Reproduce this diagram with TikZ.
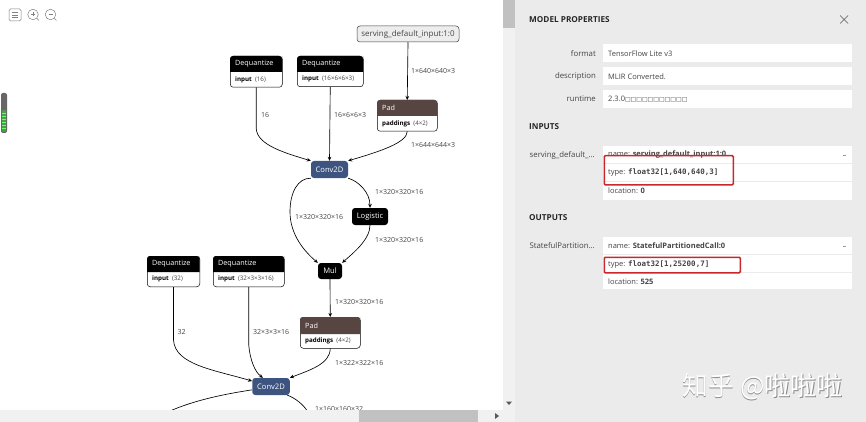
\documentclass[tikz,border=0pt]{standalone}
\usepackage{fontspec}
\setmainfont{Open Sans}
\setmonofont{DejaVu Sans Mono}
\newfontfamily\cjkfont{Noto Sans CJK SC}
\newfontfamily\boxfont{DejaVu Sans}
\usetikzlibrary{arrows.meta}
\definecolor{panelbg}{HTML}{EBEBEB}
\definecolor{barbg}{HTML}{F1F1F1}
\definecolor{barthumb}{HTML}{C1C1C1}
\definecolor{padbrown}{HTML}{574541}
\definecolor{convblue}{HTML}{3E5480}
\definecolor{redbox}{HTML}{C8282C}
\definecolor{txt}{HTML}{444444}
\tikzset{
  edge/.style={draw=black,line width=0.65pt,-{Stealth[length=4pt,width=3.6pt]}},
  stub/.style={draw=black,line width=0.65pt},
  elabel/.style={font=\fontsize{7}{8}\selectfont,text=txt,inner sep=0pt,anchor=west},
  opbox/.style={rounded corners=3pt,inner sep=0pt,draw=black,line width=0.5pt,fill=white},
  darkop/.style={rounded corners=3pt,inner sep=0pt,fill=#1,text=white,font=\fontsize{7.6}{9}\selectfont},
  title/.style={font=\fontsize{7.2}{9}\selectfont,text=white,inner sep=0pt,anchor=west},
  attr/.style={font=\fontsize{6.2}{8}\selectfont,text=black,inner sep=0pt,anchor=west},
  rowbox/.style={fill=white,draw=none,inner sep=0pt,anchor=north west},
  keytxt/.style={font=\fontsize{7.8}{9}\selectfont,text=txt,inner sep=0pt,anchor=east},
  valtxt/.style={font=\fontsize{7.5}{9}\selectfont,text=txt,inner sep=0pt,anchor=west},
  headtxt/.style={font=\fontsize{8.2}{10}\selectfont\bfseries,text=black!85,inner sep=0pt,anchor=west},
  redframe/.style={draw=redbox,line width=1.5pt,rounded corners=1pt,inner sep=0pt,anchor=north west},
  toolline/.style={draw=black!50,line width=0.5pt},
}
% name, x1, y1, x2, ysplit, y2, header colour, title, attribute name, attribute value
\newcommand{\opnode}[9]{%
  \def\argname{#1}\def\argxa{#2}\def\argya{#3}\def\argxb{#4}\def\argys{#5}\def\argyb{#6}\def\argcol{#7}\def\argtitle{#8}\def\argattr{#9}%
  \opnodeval}
\newcommand{\opnodeval}[1]{%
  \pgfmathsetlengthmacro{\boxw}{(\argxb-\argxa)*1pt}%
  \pgfmathsetlengthmacro{\boxh}{(\argyb-\argya)*1pt}%
  \node[opbox,minimum width=\boxw,minimum height=\boxh,anchor=north west] (\argname) at (\argxa,\argya) {};
  \fill[\argcol,rounded corners=3pt] (\argxa,\argys) [sharp corners] -- (\argxa,\argya+3) [rounded corners=3pt] -- (\argxa,\argya) -- (\argxb,\argya) -- (\argxb,\argya+3) [sharp corners] -- (\argxb,\argys) -- cycle;
  \node[title] (\argname-t) at (\argxa+5,{(\argya+\argys)/2}) {\argtitle};
  \node[attr] (\argname-a) at (\argxa+5,{(\argys+\argyb)/2}) {\textbf{\argattr}\ \ {\color{txt}#1}};
}
\begin{document}
\begin{tikzpicture}[x=1pt,y=-1pt]
\useasboundingbox (0,0) rectangle (866,422);
\fill[white] (0,0) rectangle (866,422);

% ---- toolbar
\node[toolline,rounded corners=1.5pt,minimum size=12pt,inner sep=0pt] (tool1) at (15,15) {};
\foreach \yy in {12.7,15,17.3}{\draw[toolline] (12,\yy) -- (18,\yy);}
\node[circle,toolline,minimum size=10.5pt,inner sep=0pt] (tool2) at (33,14.5) {};
\draw[toolline] (31,14.5) -- (35,14.5) (33,12.5) -- (33,16.5);
\draw[toolline] (tool2.south east) -- ++(2,2);
\node[circle,toolline,minimum size=10.5pt,inner sep=0pt] (tool3) at (50.5,14.5) {};
\draw[toolline] (48.5,14.5) -- (52.5,14.5);
\draw[toolline] (tool3.south east) -- ++(2,2);
% ---- slider
\fill[black!60,rounded corners=2pt] (1,93) rectangle (7,133);
\fill[green!45!black!70!white,rounded corners=1pt] (2,110) rectangle (6,132);
\foreach \yy in {113,116,119,122,125,128}{\draw[green!60!white,line width=0.4pt] (2,\yy) -- (6,\yy);}

% ---- graph nodes
\node[rounded corners=3pt,draw=black!75,line width=0.5pt,fill=black!7,minimum width=102pt,minimum height=16pt,inner sep=0pt,font=\fontsize{8}{9}\selectfont,text=txt] (serving) at (408,34) {serving\_default\_input:1:0};
\opnode{dqa}{230}{56}{282}{72}{87}{black}{Dequantize}{input}{(16)}
\opnode{dqb}{297}{56}{363}{72}{86.5}{black}{Dequantize}{input}{(16×6×6×3)}
\opnode{pada}{377}{100}{437}{116}{131}{padbrown}{Pad}{paddings}{(4×2)}
\node[darkop=convblue,minimum width=37pt,minimum height=17pt] (conva) at (329.5,169.5) {Conv2D};
\node[darkop=black,minimum width=36pt,minimum height=17pt] (logi) at (370,216.5) {Logistic};
\node[darkop=black,minimum width=24pt,minimum height=16pt] (mul) at (330,271) {Mul};
\opnode{dqc}{147}{256}{199.5}{272}{286.5}{black}{Dequantize}{input}{(32)}
\opnode{dqd}{213}{256}{284}{272}{286.5}{black}{Dequantize}{input}{(32×3×3×16)}
\opnode{padb}{300}{317}{360}{334}{348}{padbrown}{Pad}{paddings}{(4×2)}
\node[darkop=convblue,minimum width=37.5pt,minimum height=17pt] (convb) at (271,386.5) {Conv2D};
\coordinate (freel) at (170,411);
\coordinate (freer) at (308,412);

% ---- connectors
\draw[edge] (serving.south) -- (pada.north);
\draw[edge] (dqa.south) -- ++(0,41) .. controls (257,145) and (285,153) .. (conva.north west);
\draw[edge] (dqb.south) -- (conva.north);
\draw[edge] (pada.south) .. controls (407,143) and (378,152) .. (conva.north east);
\draw[edge] (conva.south west) .. controls (298,178) and (290,192) .. (290,212) .. controls (290,235) and (305,252) .. (mul.north west);
\draw[edge] (conva.south east) .. controls (358,181) and (370,192) .. (logi.north);
\draw[edge] (logi.south) .. controls (370,240) and (352,254) .. (mul.north east);
\draw[edge] (mul.south) -- (padb.north);
\draw[edge] (dqc.south) -- ++(0,53) .. controls (175,365) and (215,370) .. (convb.164);
\draw[edge] (dqd.south) -- ++(0,58) .. controls (250,360) and (255,372) .. (convb.133);
\draw[edge] (padb.south) .. controls (330,364) and (310,370) .. (convb.north east);
\draw[stub] (convb.190) .. controls (225,394) and (195,400) .. (freel);
\draw[stub] (convb.-28) .. controls (295,398) and (303,404) .. (freer);

% ---- edge labels
\node[elabel] (la) at (411,71) {1×640×640×3};
\node[elabel] (lb) at (261,115) {16};
\node[elabel] (lc) at (334,115.5) {16×6×6×3};
\node[elabel] (ld) at (411,145.5) {1×644×644×3};
\node[elabel] (le) at (375,192) {1×320×320×16};
\node[elabel] (lf) at (295,216.5) {1×320×320×16};
\node[elabel] (lg) at (375,240) {1×320×320×16};
\node[elabel] (lh) at (335,301.5) {1×320×320×16};
\node[elabel] (li) at (177.5,332) {32};
\node[elabel] (lj) at (253,332) {32×3×3×16};
\node[elabel] (lk) at (335,362.5) {1×322×322×16};
\node[elabel] (ll) at (315,408.5) {1×160×160×32};

% ---- scrollbars (cover the graph)
\fill[barbg] (503,0) rectangle (515,422);
\fill[barbg] (0,410) rectangle (515,422);
\fill[barthumb] (503,0) rectangle (515,28);
\fill[barthumb] (359,410) rectangle (478,422);
\fill[black!65] (506,401.5) -- (512,401.5) -- (509,405) -- cycle;
\fill[black!65] (495,413) -- (495,419) -- (499,416) -- cycle;

% ---- properties panel
\fill[panelbg] (515,0) rectangle (866,422);
\node[headtxt] (mp) at (529,20) {MODEL PROPERTIES};
\draw[black!55,line width=0.7pt] (840,15.5) -- (848,23.5) (848,15.5) -- (840,23.5);

\node[rowbox,minimum width=249pt,minimum height=18pt] (r1) at (603,44) {};
\node[rowbox,minimum width=249pt,minimum height=18pt] (r2) at (603,67) {};
\node[rowbox,minimum width=249pt,minimum height=18pt] (r3) at (603,89.5) {};
\node[keytxt] (k1) at (596,53.5) {format};
\node[keytxt] (k2) at (596,76) {description};
\node[keytxt] (k3) at (596,98.5) {runtime};
\node[valtxt] (v1) at (608,54) {TensorFlow Lite v3};
\node[valtxt] (v2) at (608,76.5) {MLIR Converted.};
\node[valtxt] (v3) at (608,99) {2.3.0{\boxfont\fontsize{6}{8}\selectfont □□□□□□□□□□□}};

\node[headtxt] (hi) at (529,126.5) {INPUTS};
\node[rowbox,minimum width=249pt,minimum height=54pt] (ibox) at (603,146) {};
\draw[panelbg,line width=0.5pt] (603,163.5) -- (852,163.5) (603,181) -- (852,181);
\node[keytxt] (ki) at (595,155) {serving\_default\_...};
\node[valtxt] (iv1) at (608,155) {name: \textbf{serving\_default\_input:1:0}};
\node[valtxt] (iv2) at (608,172.5) {type: \texttt{\textbf{float32[1,640,640,3]}}};
\node[valtxt] (iv3) at (608,190.5) {location: \textbf{0}};
\draw[black!40,line width=0.5pt] (843,155) -- (846,155);
\node[redframe,minimum width=129pt,minimum height=29pt] (ra) at (603.5,155) {};

\node[headtxt] (ho) at (529,218) {OUTPUTS};
\node[rowbox,minimum width=249pt,minimum height=52pt] (obox) at (603,237) {};
\draw[panelbg,line width=0.5pt] (603,254.5) -- (852,254.5) (603,272) -- (852,272);
\node[keytxt] (ko) at (595,246) {StatefulPartition...};
\node[valtxt] (ov1) at (608,246) {name: \textbf{StatefulPartitionedCall:0}};
\node[valtxt] (ov2) at (608,264.5) {type: \texttt{\textbf{float32[1,25200,7]}}};
\node[valtxt] (ov3) at (608,281.5) {location: \textbf{525}};
\draw[black!40,line width=0.5pt] (843,246) -- (846,246);
\node[redframe,minimum width=136pt,minimum height=15.5pt] (rb) at (603.5,256.5) {};

% ---- watermark
\node[inner sep=0pt,anchor=west,font=\cjkfont\fontsize{26}{28}\selectfont,text=black!45] (wms) at (682.7,387.7) {知乎 @啦啦啦};
\node[inner sep=0pt,anchor=west,font=\cjkfont\fontsize{26}{28}\selectfont,text=white] (wm) at (682,387) {知乎 @啦啦啦};
\end{tikzpicture}
\end{document}
